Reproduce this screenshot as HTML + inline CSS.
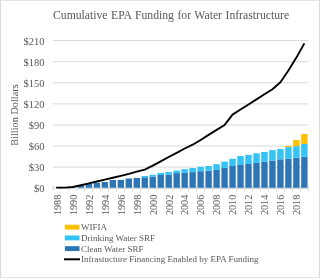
<!DOCTYPE html>
<html><head><meta charset="utf-8"><style>
html,body{margin:0;padding:0;background:#fff;}
body{width:320px;height:278px;overflow:hidden;position:relative;}
svg{position:absolute;left:0;top:0;will-change:transform;font-family:"Liberation Serif",serif;fill:#595959;}
.frame{position:absolute;left:0;top:0;width:318px;height:276px;border-style:solid;border-width:1px;border-color:#E4E4E4 #DADADA #E4E4E4 #DADADA;}
</style></head><body>
<div class="frame"></div>
<svg width="320" height="278" viewBox="0 0 320 278">
<line x1="53.00" y1="167.11" x2="308.36" y2="167.11" stroke="#D9D9D9" stroke-width="1"/>
<line x1="53.00" y1="146.03" x2="308.36" y2="146.03" stroke="#D9D9D9" stroke-width="1"/>
<line x1="53.00" y1="124.94" x2="308.36" y2="124.94" stroke="#D9D9D9" stroke-width="1"/>
<line x1="53.00" y1="103.86" x2="308.36" y2="103.86" stroke="#D9D9D9" stroke-width="1"/>
<line x1="53.00" y1="82.77" x2="308.36" y2="82.77" stroke="#D9D9D9" stroke-width="1"/>
<line x1="53.00" y1="61.68" x2="308.36" y2="61.68" stroke="#D9D9D9" stroke-width="1"/>
<line x1="53.00" y1="40.60" x2="308.36" y2="40.60" stroke="#D9D9D9" stroke-width="1"/>
<rect x="77.73" y="185.50" width="6.4" height="2.95" fill="#2E75B6"/>
<rect x="85.71" y="184.00" width="6.4" height="4.45" fill="#2E75B6"/>
<rect x="93.69" y="182.75" width="6.4" height="5.70" fill="#2E75B6"/>
<rect x="101.67" y="182.00" width="6.4" height="6.45" fill="#2E75B6"/>
<rect x="109.65" y="180.00" width="6.4" height="8.45" fill="#2E75B6"/>
<rect x="117.63" y="179.90" width="6.4" height="8.55" fill="#2E75B6"/>
<rect x="125.61" y="178.50" width="6.4" height="9.95" fill="#2E75B6"/>
<rect x="133.59" y="177.90" width="6.4" height="10.55" fill="#2E75B6"/>
<rect x="141.57" y="177.25" width="6.4" height="11.20" fill="#2E75B6"/>
<rect x="141.57" y="176.00" width="6.4" height="1.25" fill="#33C3F5"/>
<rect x="149.55" y="176.50" width="6.4" height="11.95" fill="#2E75B6"/>
<rect x="149.55" y="174.80" width="6.4" height="1.70" fill="#33C3F5"/>
<rect x="157.53" y="175.00" width="6.4" height="13.45" fill="#2E75B6"/>
<rect x="157.53" y="172.90" width="6.4" height="2.10" fill="#33C3F5"/>
<rect x="165.51" y="174.60" width="6.4" height="13.85" fill="#2E75B6"/>
<rect x="165.51" y="172.00" width="6.4" height="2.60" fill="#33C3F5"/>
<rect x="173.49" y="173.10" width="6.4" height="15.35" fill="#2E75B6"/>
<rect x="173.49" y="170.60" width="6.4" height="2.50" fill="#33C3F5"/>
<rect x="181.47" y="172.90" width="6.4" height="15.55" fill="#2E75B6"/>
<rect x="181.47" y="169.20" width="6.4" height="3.70" fill="#33C3F5"/>
<rect x="189.45" y="172.10" width="6.4" height="16.35" fill="#2E75B6"/>
<rect x="189.45" y="168.00" width="6.4" height="4.10" fill="#33C3F5"/>
<rect x="197.43" y="171.20" width="6.4" height="17.25" fill="#2E75B6"/>
<rect x="197.43" y="166.80" width="6.4" height="4.40" fill="#33C3F5"/>
<rect x="205.41" y="170.70" width="6.4" height="17.75" fill="#2E75B6"/>
<rect x="205.41" y="166.00" width="6.4" height="4.70" fill="#33C3F5"/>
<rect x="213.39" y="169.90" width="6.4" height="18.55" fill="#2E75B6"/>
<rect x="213.39" y="164.20" width="6.4" height="5.70" fill="#33C3F5"/>
<rect x="221.37" y="168.00" width="6.4" height="20.45" fill="#2E75B6"/>
<rect x="221.37" y="161.60" width="6.4" height="6.40" fill="#33C3F5"/>
<rect x="229.35" y="166.00" width="6.4" height="22.45" fill="#2E75B6"/>
<rect x="229.35" y="158.80" width="6.4" height="7.20" fill="#33C3F5"/>
<rect x="237.33" y="165.00" width="6.4" height="23.45" fill="#2E75B6"/>
<rect x="237.33" y="156.00" width="6.4" height="9.00" fill="#33C3F5"/>
<rect x="245.31" y="164.00" width="6.4" height="24.45" fill="#2E75B6"/>
<rect x="245.31" y="154.90" width="6.4" height="9.10" fill="#33C3F5"/>
<rect x="253.29" y="163.00" width="6.4" height="25.45" fill="#2E75B6"/>
<rect x="253.29" y="153.30" width="6.4" height="9.70" fill="#33C3F5"/>
<rect x="261.27" y="161.80" width="6.4" height="26.65" fill="#2E75B6"/>
<rect x="261.27" y="152.00" width="6.4" height="9.80" fill="#33C3F5"/>
<rect x="269.25" y="160.50" width="6.4" height="27.95" fill="#2E75B6"/>
<rect x="269.25" y="150.10" width="6.4" height="10.40" fill="#33C3F5"/>
<rect x="277.23" y="159.30" width="6.4" height="29.15" fill="#2E75B6"/>
<rect x="277.23" y="149.00" width="6.4" height="10.30" fill="#33C3F5"/>
<rect x="285.21" y="158.80" width="6.4" height="29.65" fill="#2E75B6"/>
<rect x="285.21" y="147.10" width="6.4" height="11.70" fill="#33C3F5"/>
<rect x="285.21" y="145.90" width="6.4" height="1.20" fill="#FFC000"/>
<rect x="293.19" y="157.80" width="6.4" height="30.65" fill="#2E75B6"/>
<rect x="293.19" y="146.20" width="6.4" height="11.60" fill="#33C3F5"/>
<rect x="293.19" y="140.10" width="6.4" height="6.10" fill="#FFC000"/>
<rect x="301.17" y="156.70" width="6.4" height="31.75" fill="#2E75B6"/>
<rect x="301.17" y="144.00" width="6.4" height="12.70" fill="#33C3F5"/>
<rect x="301.17" y="134.00" width="6.4" height="10.00" fill="#FFC000"/>
<line x1="53.00" y1="188.20" x2="308.36" y2="188.20" stroke="#D9D9D9" stroke-width="1"/>
<line x1="53.00" y1="185.60" x2="53.00" y2="191.20" stroke="#D9D9D9" stroke-width="1"/>
<line x1="60.98" y1="185.60" x2="60.98" y2="191.20" stroke="#D9D9D9" stroke-width="1"/>
<line x1="68.96" y1="185.60" x2="68.96" y2="191.20" stroke="#D9D9D9" stroke-width="1"/>
<line x1="76.94" y1="185.60" x2="76.94" y2="191.20" stroke="#D9D9D9" stroke-width="1"/>
<line x1="84.92" y1="185.60" x2="84.92" y2="191.20" stroke="#D9D9D9" stroke-width="1"/>
<line x1="92.90" y1="185.60" x2="92.90" y2="191.20" stroke="#D9D9D9" stroke-width="1"/>
<line x1="100.88" y1="185.60" x2="100.88" y2="191.20" stroke="#D9D9D9" stroke-width="1"/>
<line x1="108.86" y1="185.60" x2="108.86" y2="191.20" stroke="#D9D9D9" stroke-width="1"/>
<line x1="116.84" y1="185.60" x2="116.84" y2="191.20" stroke="#D9D9D9" stroke-width="1"/>
<line x1="124.82" y1="185.60" x2="124.82" y2="191.20" stroke="#D9D9D9" stroke-width="1"/>
<line x1="132.80" y1="185.60" x2="132.80" y2="191.20" stroke="#D9D9D9" stroke-width="1"/>
<line x1="140.78" y1="185.60" x2="140.78" y2="191.20" stroke="#D9D9D9" stroke-width="1"/>
<line x1="148.76" y1="185.60" x2="148.76" y2="191.20" stroke="#D9D9D9" stroke-width="1"/>
<line x1="156.74" y1="185.60" x2="156.74" y2="191.20" stroke="#D9D9D9" stroke-width="1"/>
<line x1="164.72" y1="185.60" x2="164.72" y2="191.20" stroke="#D9D9D9" stroke-width="1"/>
<line x1="172.70" y1="185.60" x2="172.70" y2="191.20" stroke="#D9D9D9" stroke-width="1"/>
<line x1="180.68" y1="185.60" x2="180.68" y2="191.20" stroke="#D9D9D9" stroke-width="1"/>
<line x1="188.66" y1="185.60" x2="188.66" y2="191.20" stroke="#D9D9D9" stroke-width="1"/>
<line x1="196.64" y1="185.60" x2="196.64" y2="191.20" stroke="#D9D9D9" stroke-width="1"/>
<line x1="204.62" y1="185.60" x2="204.62" y2="191.20" stroke="#D9D9D9" stroke-width="1"/>
<line x1="212.60" y1="185.60" x2="212.60" y2="191.20" stroke="#D9D9D9" stroke-width="1"/>
<line x1="220.58" y1="185.60" x2="220.58" y2="191.20" stroke="#D9D9D9" stroke-width="1"/>
<line x1="228.56" y1="185.60" x2="228.56" y2="191.20" stroke="#D9D9D9" stroke-width="1"/>
<line x1="236.54" y1="185.60" x2="236.54" y2="191.20" stroke="#D9D9D9" stroke-width="1"/>
<line x1="244.52" y1="185.60" x2="244.52" y2="191.20" stroke="#D9D9D9" stroke-width="1"/>
<line x1="252.50" y1="185.60" x2="252.50" y2="191.20" stroke="#D9D9D9" stroke-width="1"/>
<line x1="260.48" y1="185.60" x2="260.48" y2="191.20" stroke="#D9D9D9" stroke-width="1"/>
<line x1="268.46" y1="185.60" x2="268.46" y2="191.20" stroke="#D9D9D9" stroke-width="1"/>
<line x1="276.44" y1="185.60" x2="276.44" y2="191.20" stroke="#D9D9D9" stroke-width="1"/>
<line x1="284.42" y1="185.60" x2="284.42" y2="191.20" stroke="#D9D9D9" stroke-width="1"/>
<line x1="292.40" y1="185.60" x2="292.40" y2="191.20" stroke="#D9D9D9" stroke-width="1"/>
<line x1="300.38" y1="185.60" x2="300.38" y2="191.20" stroke="#D9D9D9" stroke-width="1"/>
<line x1="308.36" y1="185.60" x2="308.36" y2="191.20" stroke="#D9D9D9" stroke-width="1"/>
<polyline points="56.1,187.6 56.99,187.60 64.97,187.60 72.95,187.00 80.93,185.20 88.91,183.30 96.89,181.50 104.87,179.60 112.85,177.80 120.83,175.90 128.81,173.90 136.79,171.70 144.77,169.60 152.75,165.60 160.73,161.30 168.71,157.00 176.69,152.80 184.67,148.50 192.65,144.70 200.63,140.00 208.61,134.90 216.59,129.90 224.57,125.00 232.55,114.60 240.53,109.50 248.51,104.50 256.49,99.40 264.47,94.30 272.45,89.20 280.43,82.20 288.41,70.50 296.39,57.60 304.37,43.40" fill="none" stroke="#000" stroke-width="1.9" stroke-linejoin="round" stroke-linecap="butt"/>
<text x="44.4" y="192.10" text-anchor="end" font-size="10.5">$0</text>
<text x="44.4" y="171.01" text-anchor="end" font-size="10.5">$30</text>
<text x="44.4" y="149.93" text-anchor="end" font-size="10.5">$60</text>
<text x="44.4" y="128.84" text-anchor="end" font-size="10.5">$90</text>
<text x="44.4" y="107.76" text-anchor="end" font-size="10.5">$120</text>
<text x="44.4" y="86.67" text-anchor="end" font-size="10.5">$150</text>
<text x="44.4" y="65.58" text-anchor="end" font-size="10.5">$180</text>
<text x="44.4" y="44.50" text-anchor="end" font-size="10.5">$210</text>
<text transform="translate(60.79,194.7) rotate(-90)" text-anchor="end" font-size="10.2">1988</text>
<text transform="translate(76.75,194.7) rotate(-90)" text-anchor="end" font-size="10.2">1990</text>
<text transform="translate(92.71,194.7) rotate(-90)" text-anchor="end" font-size="10.2">1992</text>
<text transform="translate(108.67,194.7) rotate(-90)" text-anchor="end" font-size="10.2">1994</text>
<text transform="translate(124.63,194.7) rotate(-90)" text-anchor="end" font-size="10.2">1996</text>
<text transform="translate(140.59,194.7) rotate(-90)" text-anchor="end" font-size="10.2">1998</text>
<text transform="translate(156.55,194.7) rotate(-90)" text-anchor="end" font-size="10.2">2000</text>
<text transform="translate(172.51,194.7) rotate(-90)" text-anchor="end" font-size="10.2">2002</text>
<text transform="translate(188.47,194.7) rotate(-90)" text-anchor="end" font-size="10.2">2004</text>
<text transform="translate(204.43,194.7) rotate(-90)" text-anchor="end" font-size="10.2">2006</text>
<text transform="translate(220.39,194.7) rotate(-90)" text-anchor="end" font-size="10.2">2008</text>
<text transform="translate(236.35,194.7) rotate(-90)" text-anchor="end" font-size="10.2">2010</text>
<text transform="translate(252.31,194.7) rotate(-90)" text-anchor="end" font-size="10.2">2012</text>
<text transform="translate(268.27,194.7) rotate(-90)" text-anchor="end" font-size="10.2">2014</text>
<text transform="translate(284.23,194.7) rotate(-90)" text-anchor="end" font-size="10.2">2016</text>
<text transform="translate(300.19,194.7) rotate(-90)" text-anchor="end" font-size="10.2">2018</text>
<text x="53" y="19.1" font-size="11.7" word-spacing="0.6">Cumulative EPA Funding for Water Infrastructure</text>
<text transform="translate(17.8,145.8) rotate(-90)" font-size="10.3">Billion Dollars</text>
<rect x="64.9" y="224.75" width="14.6" height="4.9" fill="#FFC000"/>
<text x="81" y="230.10" font-size="9">WIFIA</text>
<rect x="64.9" y="235.45" width="14.6" height="4.9" fill="#33C3F5"/>
<text x="81" y="240.80" font-size="9">Drinking Water SRF</text>
<rect x="64.9" y="246.15" width="14.6" height="4.9" fill="#2E75B6"/>
<text x="81" y="251.50" font-size="9">Clean Water SRF</text>
<line x1="64" y1="259.30" x2="80" y2="259.30" stroke="#000" stroke-width="2"/>
<text x="81" y="262.20" font-size="9">Infrastucture Financing Enabled by EPA Funding</text>
</svg>
</body></html>
